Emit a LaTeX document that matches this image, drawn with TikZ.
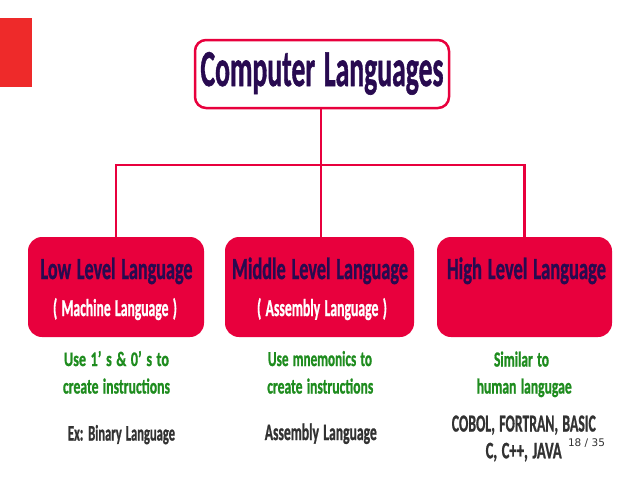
\documentclass[tikz,border=0pt]{standalone}
\usepackage{fontspec}
\setmainfont{Carlito}[WordSpace=1.4, BoldFeatures={FakeBold=1.2}]
\newfontfamily\pagefont{DejaVu Sans}
\usepackage{graphicx}
\definecolor{crim}{RGB}{232,0,61}
\definecolor{tagred}{RGB}{238,42,42}
\definecolor{navy}{RGB}{40,10,80}
\definecolor{dgreen}{RGB}{30,140,30}
\definecolor{dgray}{RGB}{50,50,50}
\newcommand\fit[3]{\resizebox{#1pt}{#2pt}{\bfseries #3}}
\tikzset{
  lbox/.style={fill=crim, draw=none, rounded corners=14pt, minimum height=100pt, inner sep=0pt},
  topbox/.style={fill=white, draw=crim, line width=2.5pt, rounded corners=11pt, minimum width=254pt, minimum height=68pt, inner sep=0pt},
  conn/.style={draw=crim, line width=2.5pt},
  txt/.style={anchor=base, inner sep=0pt},
}
\begin{document}
\begin{tikzpicture}[x=1pt,y=-1pt]
\useasboundingbox (0,0) rectangle (638,479);
\fill[white] (0,0) rectangle (638,479);
\fill[tagred] (0,18) rectangle (32,86.5);
% boxes
\node[topbox] (top) at (322,74) {};
\node[lbox, minimum width=176pt] (low) at (116,287) {};
\node[lbox, minimum width=189pt] (mid) at (319.5,287) {};
\node[lbox, minimum width=175pt] (high) at (524.5,287) {};
% connectors
\coordinate (j) at (321,165);
\draw[conn] (top.south -| j) -- (j);
\draw[conn] (low.north) |- (j) -| (high.north);
\draw[conn] (j) -- (j |- mid.north);
% titles
\node[txt, text=navy] (tt) at (322,86) {\fit{243}{34}{Computer Languages}};
\node[txt, text=navy] (lowt) at (116.5,279) {\fit{152}{21.5}{Low Level Language}};
\node[txt, text=white] (lows) at (115,316) {\fit{124}{18}{( Machine Language )}};
\node[txt, text=navy] (midt) at (320,279) {\fit{176}{21.5}{Middle Level Language}};
\node[txt, text=white] (mids) at (322,316) {\fit{130}{18}{( Assembly Language )}};
\node[txt, text=navy] (hight) at (526.5,279) {\fit{159}{21.5}{High Level Language}};
% green descriptions
\node[txt, text=dgreen] (g1a) at (116.5,366) {\fit{105}{15}{Use 1’\,\,s \& 0’\,\,s to}};
\node[txt, text=dgreen] (g1b) at (116.5,393.5) {\fit{107}{15}{create instructions}};
\node[txt, text=dgreen] (g2a) at (320,366) {\fit{104}{15}{Use mnemonics to}};
\node[txt, text=dgreen] (g2b) at (320.3,393.5) {\fit{106}{15}{create instructions}};
\node[txt, text=dgreen] (g3a) at (521.5,366.5) {\fit{55}{15}{Similar to}};
\node[txt, text=dgreen] (g3b) at (524.2,393.5) {\fit{95}{15}{human langugae}};
% examples
\node[txt, text=dgray] (e1) at (121.5,440.5) {\fit{107}{15.5}{Ex: Binary Language}};
\node[txt, text=dgray] (e2) at (320.8,440) {\fit{112}{16.5}{Assembly Language}};
\node[txt, text=dgray] (e3a) at (523.8,431.5) {\fit{144}{16}{COBOL, FORTRAN, BASIC}};
\node[txt, text=dgray] (e3b) at (523.7,458.3) {\fit{76}{15.5}{C, C++, JAVA}};
% page number
\node[txt, text=dgray, font=\pagefont\fontsize{10.5}{12}\selectfont] (pg) at (586.5,446.7) {18 / 35};
\end{tikzpicture}
\end{document}
